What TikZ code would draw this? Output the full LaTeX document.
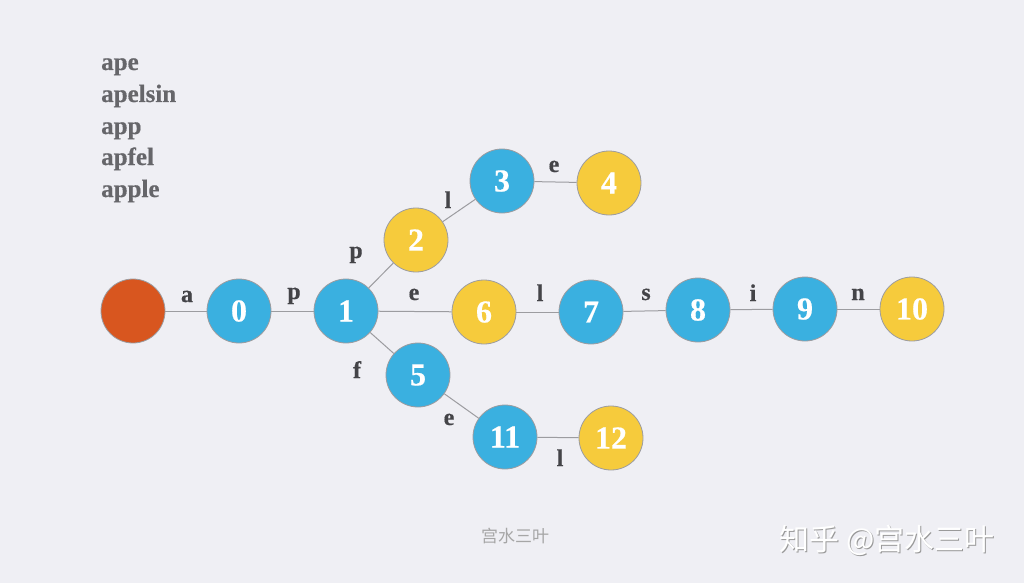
\documentclass[tikz,border=0pt]{standalone}
\usepackage{fontspec}
\setmainfont{Liberation Serif}[BoldFont={Liberation Serif Bold},BoldFeatures={FakeBold=0.5}]
\newfontfamily\cjk{Noto Sans CJK SC}
\definecolor{bg}{HTML}{EFEFF4}
\definecolor{nblue}{HTML}{3AB0E0}
\definecolor{nyellow}{HTML}{F6CB3C}
\definecolor{norange}{HTML}{D8561F}
\definecolor{edgegray}{HTML}{9C9CA0}
\definecolor{labgray}{HTML}{444448}
\definecolor{wordgray}{HTML}{66666A}
\tikzset{
  trie/.style={circle, minimum size=64pt, inner sep=0pt, draw=edgegray, line width=0.8pt,
    text=white, font=\bfseries\fontsize{32}{32}\selectfont},
  bluen/.style={trie, fill=nblue},
  yellown/.style={trie, fill=nyellow},
  rootn/.style={trie, fill=norange},
  link/.style={draw=edgegray, line width=1pt},
  elab/.style={anchor=base, text=labgray, font=\bfseries\fontsize{24}{24}\selectfont, inner sep=0pt},
  word/.style={anchor=base west, text=wordgray, font=\bfseries\fontsize{25}{25}\selectfont, inner sep=0pt},
}
\begin{document}
\begin{tikzpicture}[x=1pt,y=-1pt]
\fill[bg] (0,0) rectangle (1024,583);
\useasboundingbox (0,0) rectangle (1024,583);

% words
\node[word] (w1) at (101,70) {ape};
\node[word] (w2) at (101,102) {apelsin};
\node[word] (w3) at (101,134) {app};
\node[word] (w4) at (101,165) {apfel};
\node[word] (w5) at (101,197) {apple};

% nodes
\node[rootn] (r) at (133,311) {};
\node[bluen] (n0) at (239,311) {0};
\node[bluen] (n1) at (346,311) {1};
\node[yellown] (n2) at (416,240) {2};
\node[bluen] (n3) at (502,181) {3};
\node[yellown] (n4) at (609,183) {4};
\node[yellown] (n6) at (484,312) {6};
\node[bluen] (n7) at (591,312) {7};
\node[bluen] (n8) at (698,310) {8};
\node[bluen] (n9) at (805,309) {9};
\node[yellown] (n10) at (912,309) {10};
\node[bluen] (n5) at (418,375) {5};
\node[bluen] (n11) at (505,437) {11};
\node[yellown] (n12) at (611,438) {12};

% edges
\draw[link] (r) -- (n0);
\draw[link] (n0) -- (n1);
\draw[link] (n1) -- (n2);
\draw[link] (n2) -- (n3);
\draw[link] (n3) -- (n4);
\draw[link] (n1) -- (n6);
\draw[link] (n6) -- (n7);
\draw[link] (n7) -- (n8);
\draw[link] (n8) -- (n9);
\draw[link] (n9) -- (n10);
\draw[link] (n1) -- (n5);
\draw[link] (n5) -- (n11);
\draw[link] (n11) -- (n12);

% edge labels
\node[elab] (la) at (187,302) {a};
\node[elab] (lp1) at (294,299) {p};
\node[elab] (lp2) at (356,258) {p};
\node[elab] (ll1) at (448,208) {l};
\node[elab] (le1) at (554,172) {e};
\node[elab] (le2) at (414,300) {e};
\node[elab] (ll2) at (540,301) {l};
\node[elab] (ls) at (646,300) {s};
\node[elab] (li) at (753,301) {i};
\node[elab] (ln) at (858,300) {n};
\node[elab] (lf) at (357,378) {f};
\node[elab] (le3) at (449,425) {e};
\node[elab] (ll3) at (560,466) {l};

% watermarks
\node[text=gray!70, font=\cjk\fontsize{17}{17}\selectfont] (wm1) at (515,536) {宫水三叶};
\node[text=gray!80, font=\cjk\fontsize{30}{30}\selectfont] (wm2s) at (888,541) {知乎 @宫水三叶};
\node[text=white, font=\cjk\fontsize{30}{30}\selectfont] (wm2) at (887,540) {知乎 @宫水三叶};
\end{tikzpicture}
\end{document}
